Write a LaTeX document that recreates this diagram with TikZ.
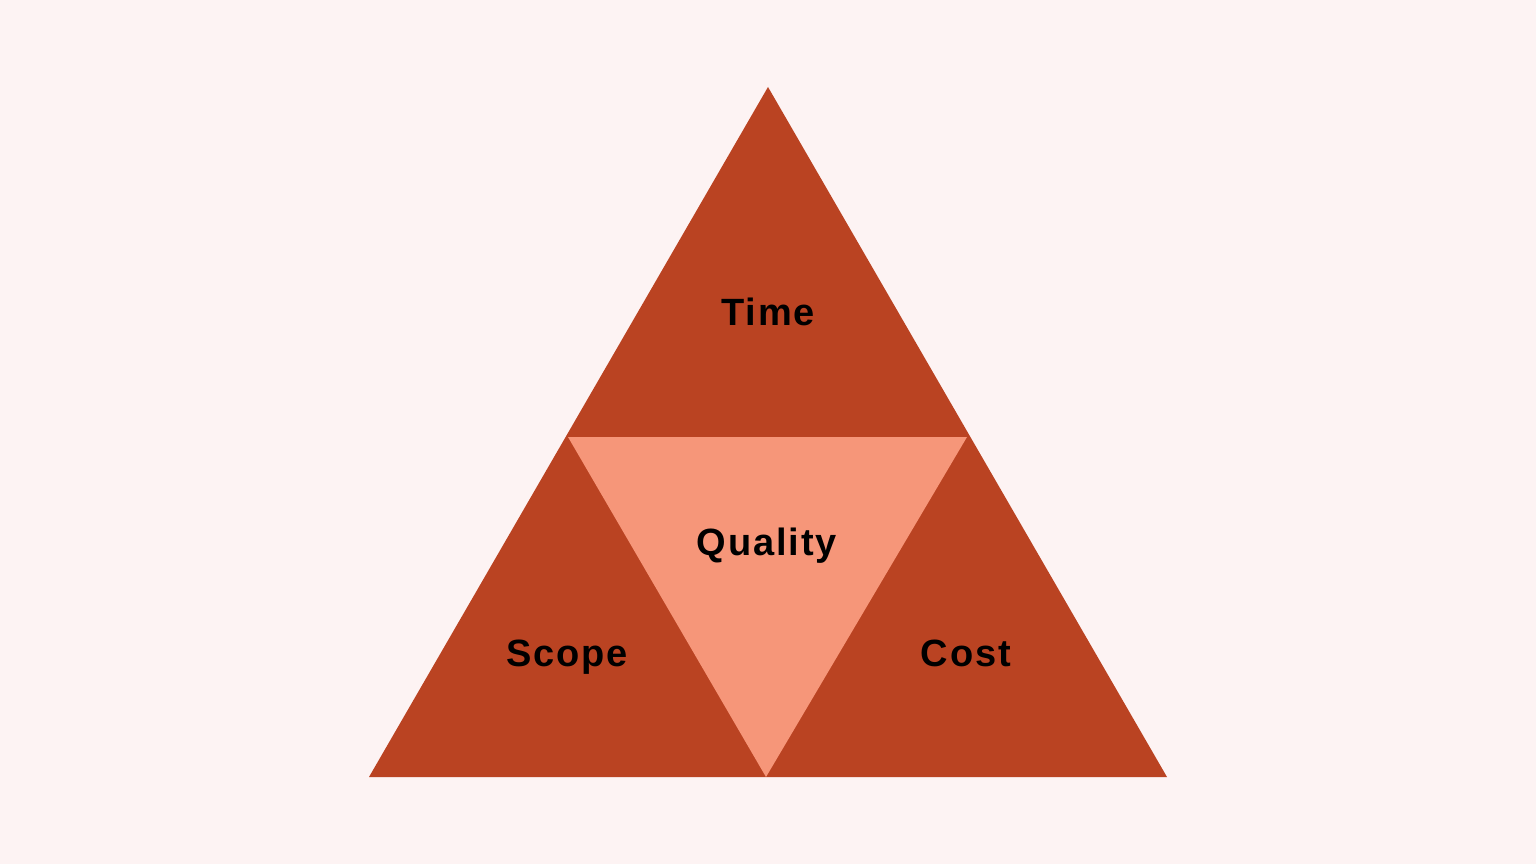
\documentclass[tikz,border=0pt]{standalone}
\usepackage{fontspec}
\setmainfont{Liberation Sans}
\newfontfamily\lblfont[LetterSpace=5]{Liberation Sans}
\definecolor{bgpink}{HTML}{FDF3F3}
\definecolor{rust}{HTML}{BA4322}
\definecolor{salmon}{HTML}{F69679}
\tikzset{lbl/.style={anchor=base, inner sep=0pt,
          font=\lblfont\fontsize{38}{38}\selectfont\bfseries}}
\begin{document}
\begin{tikzpicture}[x=1pt,y=-1pt]
\fill[bgpink] (0,0) rectangle (1536,864);
\useasboundingbox (0,0) rectangle (1536,864);

\coordinate (top) at (768,87);
\coordinate (left) at (369,777);
\coordinate (right) at (1167,777);
\coordinate (ml) at (568,437);
\coordinate (mr) at (967,437);
\coordinate (mb) at (766,777);

\fill[rust] (top) -- (left) -- (right) -- cycle;
\fill[salmon] (ml) -- (mr) -- (mb) -- cycle;

\node[lbl] (time) at (768,325) {Time};
\node[lbl] (quality) at (767,555) {Quality};
\node[lbl] (scope) at (567,666) {Scope};
\node[lbl] (cost) at (966,666) {Cost};
\end{tikzpicture}
\end{document}
